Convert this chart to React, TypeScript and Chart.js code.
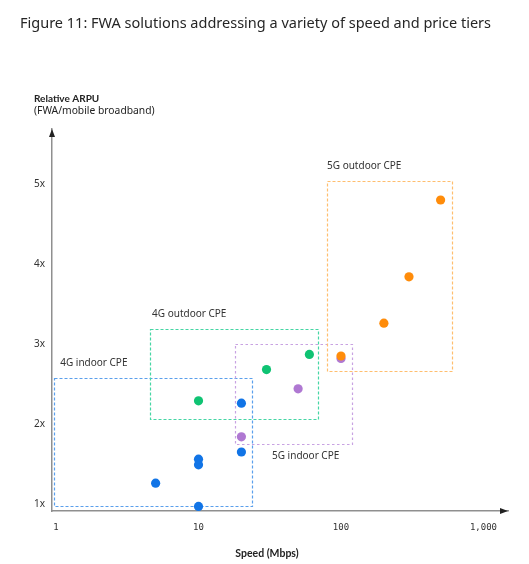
import React, { useEffect, useRef } from "react";
import { Chart, registerables } from "chart.js";

Chart.register(...registerables);

// ---- data ----
const seriesNames = ["4G indoor", "4G outdoor", "5G indoor", "5G outdoor"];
const blueX = [5, 10, 10, 10, 20, 20];
const blueY = [1.26, 0.97, 1.49, 1.56, 1.65, 2.26];
const greenX = [10, 30, 60];
const greenY = [2.29, 2.68, 2.87];
const purpleX = [20, 50, 100];
const purpleY = [1.84, 2.44, 2.82];
const orangeX = [100, 200, 300, 500];
const orangeY = [2.85, 3.26, 3.84, 4.8];

const xTickValues = [1, 10, 100, 1000];
const yTickValues = [1, 2, 3, 4, 5];

const boxLabels = ["4G indoor CPE", "4G outdoor CPE", "5G indoor CPE", "5G outdoor CPE"];
const boxXMin = [0.97, 4.6, 18, 80];
const boxXMax = [23.7, 69, 119, 600];
const boxYMin = [0.975, 2.06, 1.75, 2.66];
const boxYMax = [2.575, 3.19, 3.0, 5.04];
const labelX = [1.07, 4.72, 32.8, 79.8];
const labelY = [2.76, 3.375, 1.6, 5.225];

const titleText = "Figure 11: FWA solutions addressing a variety of speed and price tiers";
const yTitle1 = "Relative ARPU";
const yTitle2 = "(FWA/mobile broadband)";
const xTitle = "Speed (Mbps)";

// ---- styles ----
const dotColors = ["#1174e6", "#0fc373", "#af78d2", "#ff8c0a"];
const boxColors = ["#5a9fec", "#45d6a4", "#c8a2e2", "#ffbe6e"];
const boxDash = [[3, 2], [3, 2], [2.5, 2.5], [3, 2]];

const toPts = (xs: number[], ys: number[]) => xs.map((x, i) => ({ x, y: ys[i] }));

const overlayPlugin = {
  id: "overlay",
  beforeDatasetsDraw(chart: any) {
    const { ctx, scales } = chart;
    const xs = scales.x;
    const ys = scales.y;
    ctx.save();
    for (let i = 0; i < boxLabels.length; i++) {
      const x0 = xs.getPixelForValue(boxXMin[i]);
      const x1 = xs.getPixelForValue(boxXMax[i]);
      const y0 = ys.getPixelForValue(boxYMax[i]);
      const y1 = ys.getPixelForValue(boxYMin[i]);
      ctx.strokeStyle = boxColors[i];
      ctx.lineWidth = 1.2;
      ctx.setLineDash(boxDash[i]);
      ctx.strokeRect(Math.round(x0) + 0.5, Math.round(y0) + 0.5, Math.round(x1 - x0), Math.round(y1 - y0));
    }
    ctx.setLineDash([]);
    ctx.fillStyle = "#333";
    ctx.font = "10px 'Noto Sans', sans-serif";
    ctx.textBaseline = "middle";
    ctx.textAlign = "left";
    for (let i = 0; i < boxLabels.length; i++) {
      ctx.fillText(boxLabels[i], xs.getPixelForValue(labelX[i]), ys.getPixelForValue(labelY[i]));
    }
    ctx.restore();
  },
  afterDraw(chart: any) {
    const { ctx, chartArea } = chart;
    ctx.save();
    // arrowheads
    ctx.fillStyle = "#222";
    const l = chartArea.left;
    const t = chartArea.top;
    const b = chartArea.bottom;
    const r = chartArea.right;
    ctx.beginPath();
    ctx.moveTo(l, t);
    ctx.lineTo(l - 3, t + 8);
    ctx.lineTo(l + 3, t + 8);
    ctx.closePath();
    ctx.fill();
    ctx.beginPath();
    ctx.moveTo(r, b);
    ctx.lineTo(r - 8, b - 3);
    ctx.lineTo(r - 8, b + 3);
    ctx.closePath();
    ctx.fill();
    // texts
    ctx.fillStyle = "#262626";
    ctx.textBaseline = "middle";
    ctx.textAlign = "left";
    ctx.font = "14.5px 'Noto Sans', sans-serif";
    ctx.fillText(titleText, 20, 24);
    ctx.fillStyle = "#222";
    ctx.font = "bold 10px Lato, sans-serif";
    ctx.fillText(yTitle1, 34, 99);
    ctx.font = "10.3px 'Noto Sans', sans-serif";
    ctx.fillText(yTitle2, 34, 111);
    ctx.font = "bold 10.5px Lato, sans-serif";
    ctx.textAlign = "center";
    ctx.fillText(xTitle, 267, 554);
    ctx.restore();
  },
};

export default function App() {
  const canvasRef = useRef<HTMLCanvasElement | null>(null);

  useEffect(() => {
    const canvas = canvasRef.current;
    if (!canvas) return;
    const allX = [blueX, greenX, purpleX, orangeX];
    const allY = [blueY, greenY, purpleY, orangeY];
    const chart = new Chart(canvas, {
      type: "scatter",
      data: {
        datasets: seriesNames.map((name, i) => ({
          label: name,
          data: toPts(allX[i], allY[i]),
          backgroundColor: dotColors[i],
          borderColor: dotColors[i],
          pointRadius: 4.6,
          pointBorderWidth: 0,
          order: seriesNames.length - i,
          clip: false as any,
        })),
      },
      options: {
        responsive: false,
        animation: false,
        layout: { padding: { top: 129, right: 21, left: 0, bottom: 0 } },
        plugins: {
          legend: { display: false },
          title: { display: false },
          tooltip: { enabled: false },
        },
        scales: {
          x: {
            type: "logarithmic",
            min: 0.937,
            max: 1486,
            grid: { display: false, drawTicks: false },
            border: { display: true, color: "#8f8f8f", width: 1.5 },
            afterBuildTicks: (scale: any) => {
              scale.ticks = xTickValues.map((v) => ({ value: v }));
            },
            afterFit: (scale: any) => {
              scale.height = 53;
            },
            ticks: {
              autoSkip: false,
              maxRotation: 0,
              padding: 11,
              color: "#333",
              font: { family: "'DejaVu Sans Mono', monospace", size: 9 },
              callback: (v: any) => Number(v).toLocaleString("en-US"),
            },
          },
          y: {
            type: "linear",
            min: 0.9125,
            max: 5.6875,
            grid: { display: false, drawTicks: false },
            border: { display: true, color: "#8f8f8f", width: 1.5 },
            afterBuildTicks: (scale: any) => {
              scale.ticks = yTickValues.map((v) => ({ value: v }));
            },
            afterFit: (scale: any) => {
              scale.width = 52;
            },
            ticks: {
              padding: 7,
              color: "#333",
              font: { family: "'Noto Sans', sans-serif", size: 10 },
              callback: (v: any) => `${v}x`,
            },
          },
        },
      },
      plugins: [overlayPlugin],
    });
    return () => chart.destroy();
  }, []);

  return (
    <div style={{ position: "fixed", left: 0, top: 0, width: 529, height: 564, background: "#fff" }}>
      <canvas ref={canvasRef} width={529} height={564} style={{ width: 529, height: 564, display: "block" }} />
    </div>
  );
}
